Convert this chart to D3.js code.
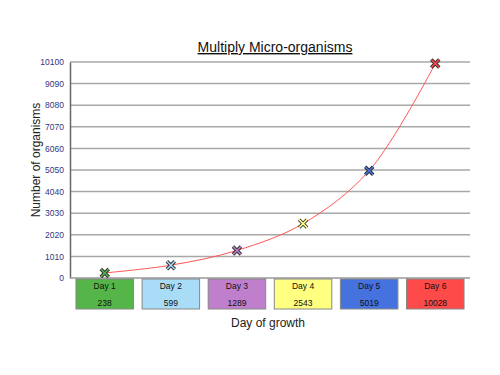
<!DOCTYPE html>
<html>
<head>
<meta charset="utf-8">
<script src="https://cdn.jsdelivr.net/npm/d3@7"></script>
<style>
	body { margin: 0; background: #fff; }
	text { font-family: "Liberation Sans", Arial, sans-serif; }
</style>
</head>
<body>
<svg id="chart" width="500" height="375"></svg>
<script>
// data
var days = ["Day 1", "Day 2", "Day 3", "Day 4", "Day 5", "Day 6"];
var counts = [238, 599, 1289, 2543, 5019, 10028];
var dayColors = ["#55b548", "#a9dcf7", "#c07fcc", "#ffff80", "#4672e0", "#ff4a4a"];
var yTicks = [0, 1010, 2020, 3030, 4040, 5050, 6060, 7070, 8080, 9090, 10100];

var svg = d3.select("#chart");

// plot edges (window.top is reserved, so prefix them)
var pLeft = 70, pRight = 470, pTop = 62, pBottom = 278;

var x = d3.scaleBand().domain(days).range([pLeft + 2, pRight - 2]).paddingInner(0.13).paddingOuter(0.06);
var y = d3.scaleLinear().domain([0, 10100]).range([pBottom, pTop]);

// gridlines
svg.append("g").selectAll("line").data(yTicks.slice(1))
	.join("line")
	.attr("x1", pLeft).attr("x2", pRight)
	.attr("y1", d => y(d)).attr("y2", d => y(d))
	.attr("stroke", "#a8a8a8").attr("stroke-width", 1.5);

// y axis
var yAxis = d3.axisLeft(y).tickValues(yTicks).tickSize(0).tickPadding(6).tickFormat(d3.format("d"));
var gy = svg.append("g").attr("transform", "translate(" + pLeft + ",0)").call(yAxis);
gy.select(".domain").attr("stroke", "#666").attr("stroke-width", 1.5);
gy.selectAll("text").attr("fill", "#35357f").attr("font-size", 8.5)
	.style("font-family", "'Liberation Sans', Arial, sans-serif");

// baseline
svg.append("line").attr("x1", pLeft).attr("x2", pRight).attr("y1", pBottom).attr("y2", pBottom)
	.attr("stroke", "#9a9a9a").attr("stroke-width", 1.5);

// category boxes
var boxes = svg.append("g").selectAll("g").data(days).join("g")
	.attr("transform", d => "translate(" + x(d) + "," + (pBottom + 1) + ")");
boxes.append("rect")
	.attr("width", x.bandwidth()).attr("height", 30)
	.attr("fill", (d, i) => dayColors[i])
	.attr("stroke", "#888").attr("stroke-width", 1);
boxes.append("text")
	.attr("x", x.bandwidth() / 2).attr("y", 10)
	.attr("text-anchor", "middle").attr("font-size", 8.5).attr("fill", "#111")
	.text(d => d);
boxes.append("text")
	.attr("x", x.bandwidth() / 2).attr("y", 27)
	.attr("text-anchor", "middle").attr("font-size", 8.5).attr("fill", "#111")
	.text((d, i) => counts[i]);

// curve
var line = d3.line()
	.x((d, i) => x(days[i]) + x.bandwidth() / 2)
	.y(d => y(d))
	.curve(d3.curveCatmullRom.alpha(0.5));
svg.append("path").datum(counts)
	.attr("d", line)
	.attr("fill", "none").attr("stroke", "#ff5555").attr("stroke-width", 1);

// markers
var m = 4;
var cross = "M" + (-m) + "," + (-m) + "L" + m + "," + m + "M" + (-m) + "," + m + "L" + m + "," + (-m);
var marks = svg.append("g").selectAll("g").data(counts).join("g")
	.attr("transform", (d, i) => "translate(" + (x(days[i]) + x.bandwidth() / 2) + "," + y(d) + ")");
marks.append("path").attr("d", cross).attr("stroke", "#333").attr("stroke-width", 3.5);
marks.append("path").attr("d", cross).attr("stroke", (d, i) => dayColors[i]).attr("stroke-width", 1.5);

// titles
svg.append("text")
	.attr("x", 275).attr("y", 52)
	.attr("text-anchor", "middle").attr("font-size", 14).attr("fill", "#111")
	.attr("text-decoration", "underline")
	.text("Multiply Micro-organisms");

svg.append("text")
	.attr("transform", "translate(40,160) rotate(-90)")
	.attr("text-anchor", "middle").attr("font-size", 12).attr("fill", "#222")
	.text("Number of organisms");

svg.append("text")
	.attr("x", 268).attr("y", 327)
	.attr("text-anchor", "middle").attr("font-size", 12).attr("fill", "#222")
	.text("Day of growth");
</script>
</body>
</html>
